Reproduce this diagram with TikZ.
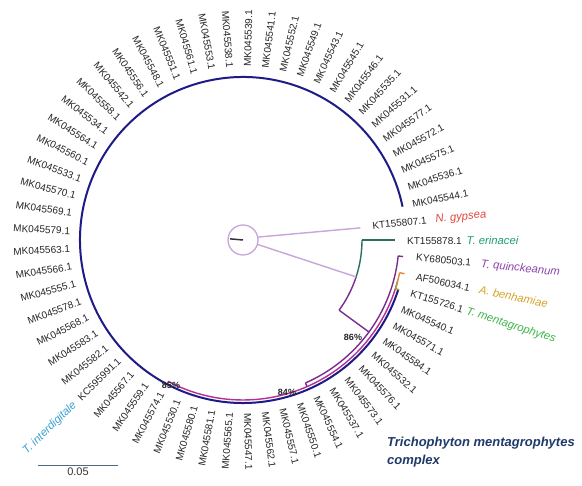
\documentclass[tikz,border=0pt]{standalone}
\usepackage{fontspec}
\setmainfont{Liberation Sans}
\definecolor{navyarc}{HTML}{1E1A86}
\definecolor{lavline}{HTML}{C8A5DA}
\definecolor{tealline}{HTML}{2C6E62}
\definecolor{purpline}{HTML}{7B2D8E}
\definecolor{magline}{HTML}{B42F98}
\definecolor{orangeline}{HTML}{E08A3A}
\definecolor{oliveline}{HTML}{A8A030}
\definecolor{ngyp}{HTML}{E0463C}
\definecolor{teri}{HTML}{1E9C78}
\definecolor{tqui}{HTML}{8A44A8}
\definecolor{aben}{HTML}{D4A528}
\definecolor{tmen}{HTML}{3DB548}
\definecolor{tint}{HTML}{3AA0D2}
\definecolor{titlec}{HTML}{1F3A6A}
\definecolor{scalec}{HTML}{4E6A80}
\newcommand{\spname}[2]{\textcolor{#1}{\fontsize{11.3}{13}\selectfont\itshape #2}}
\begin{document}
\begin{tikzpicture}[x=1pt,y=1pt,
 leaf/.style={font=\fontsize{10}{12}\selectfont, inner sep=0pt, text=black!85},
 boot/.style={font=\fontsize{9}{10}\selectfont\bfseries, inner sep=0pt, text=black!85},
 branch/.style={line width=1.4pt}
]
\useasboundingbox (0,0) rectangle (582,486);
\fill[white] (0,0) rectangle (582,486);
\begin{scope}[shift={(243,246)}]
\coordinate (O) at (0,0);
% root circle and tiny root branch
\draw[lavline, line width=1.3pt] (O) circle (15pt);
\coordinate (r0) at (175:13pt);
\draw[black!80, line width=1.5pt] (O) -- (r0);
% big arc
\draw[navyarc, line width=2pt] (11.80:163pt) arc[start angle=11.80, end angle=342.30, radius=163pt];
% magenta arc
\draw[magline, branch] (242:160pt) arc[start angle=242, end angle=345.25, radius=160pt];
% small node G (A. benhamiae + T. mentagrophytes)
\draw[orangeline, branch] (345.25:160pt) arc[start angle=345.25, end angle=348.20, radius=160pt];
\draw[oliveline, branch] (342.30:160pt) arc[start angle=342.30, end angle=345.25, radius=160pt];
\coordinate (g1) at (348.20:160pt); \coordinate (AFend) at (348.20:165pt);
\draw[orangeline, branch] (g1) -- (AFend);
\coordinate (g2) at (342.30:160pt); \coordinate (KTmend) at (342.30:164pt);
\draw[oliveline, branch] (g2) -- (KTmend);
% node C
\draw[purpline, branch] (293.6:156pt) arc[start angle=293.6, end angle=354.10, radius=156pt];
\coordinate (E1) at (293.6:156pt); \coordinate (E2) at (293.6:160pt);
\draw[purpline, branch] (E1) -- (E2);
\coordinate (KY1) at (354.10:156pt); \coordinate (KYend) at (354.10:161pt);
\draw[purpline, branch] (KY1) -- (KYend);
% node B
\draw[tealline, branch] (0:119pt) arc[start angle=0, end angle=-18.07, radius=119pt];
\draw[purpline, branch] (-18.07:119pt) arc[start angle=-18.07, end angle=-36.15, radius=119pt];
\coordinate (C1) at (-36.15:119pt); \coordinate (C2) at (-36.15:156pt);
\draw[purpline, branch] (C1) -- (C2);
\coordinate (B0) at (0:119pt); \coordinate (KTeend) at (0:152pt);
\draw[tealline, branch] (B0) -- (KTeend);
% root branches
\coordinate (R1) at (11:15pt); \coordinate (NGend) at (5.90:118pt);
\draw[lavline, line width=1.4pt] (R1) -- (NGend);
\coordinate (R2) at (-17:15pt); \coordinate (B) at (-18.07:119pt);
\draw[lavline, line width=1.4pt] (R2) -- (B);
% plain leaf labels
\foreach \k/\lab in {2/MK045544.1, 3/MK045536.1, 4/MK045575.1, 5/MK045572.1, 6/MK045577.1,
  7/MK045531.1, 8/MK045535.1, 9/MK045546.1, 10/MK045545.1, 11/MK045543.1, 12/MK045549.1,
  13/MK045552.1, 14/MK045541.1, 15/MK045539.1, 16/MK045538.1, 17/MK045553.1, 18/MK045561.1,
  19/MK045551.1, 20/MK045548.1, 21/MK045556.1, 22/MK045542.1, 23/MK045558.1, 24/MK045534.1,
  25/MK045564.1, 26/MK045560.1, 27/MK045533.1, 28/MK045570.1, 29/MK045569.1, 30/MK045579.1,
  31/MK045563.1, 32/MK045566.1, 33/MK045555.1, 34/MK045578.1, 35/MK045568.1, 36/MK045583.1,
  37/MK045582.1, 39/MK045567.1, 40/MK045559.1, 41/MK045574.1, 42/MK045530.1, 43/MK045580.1,
  44/MK045581.1, 45/MK045565.1, 46/MK045547.1, 47/MK045562.1, 48/MK045557.1, 49/MK045550.1,
  50/MK045554.1, 51/MK045537.1, 52/MK045573.1, 53/MK045576.1, 54/MK045532.1, 55/MK045584.1,
  56/MK045571.1, 57/MK045540.1} {
  \pgfmathsetmacro\ang{\k*5.901639}
  \pgfmathsetmacro\angb{\ang-180}
  \pgfmathtruncatemacro\rt{cos(\ang)*1000}
  \ifnum\rt<0
    \node[leaf, anchor=east, rotate=\angb] (L\k) at (\ang:173pt) {\lab};
  \else
    \node[leaf, anchor=west, rotate=\ang] (L\k) at (\ang:173pt) {\lab};
  \fi
}
% special labels
\node[leaf, anchor=west, rotate=5.90] (L1) at (5.90:130pt) {KT155807.1\hspace{9pt}\spname{ngyp}{N. gypsea}};
\node[leaf, anchor=west, rotate=0] (L61) at (0:164pt) {KT155878.1\hspace{5pt}\spname{teri}{T. erinacei}};
\node[leaf, anchor=west, rotate=-5.90] (L60) at (-5.90:174pt) {KY680503.1\hspace{10pt}\spname{tqui}{T. quinckeanum}};
\node[leaf, anchor=west, rotate=-11.80] (L59) at (-11.80:177pt) {AF506034.1\hspace{10pt}\spname{aben}{A. benhamiae}};
\node[leaf, anchor=west, rotate=-17.70] (L58) at (-17.70:176pt) {KT155726.1\hspace{4pt}\spname{tmen}{T. mentagrophytes}};
\node[leaf, anchor=east, rotate=44.26] (L38) at (224.26:172pt) {\spname{tint}{T. interdigitale}\hspace{7pt}KC595991.1};
% bootstrap values
\node[boot] (b86) at (110,-97) {86\%};
\node[boot] (b84) at (44,-152) {84\%};
\node[boot] (b85) at (-72,-145) {85\%};
\end{scope}
% scale bar
\coordinate (sb1) at (38,20); \coordinate (sb2) at (118,20);
\draw[scalec, line width=1pt] (sb1) -- (sb2);
\node[font=\fontsize{11}{13}\selectfont, anchor=base, text=black!80, inner sep=0pt] (sbl) at (78,10) {0.05};
% title
\node[anchor=base west, font=\fontsize{13}{15}\selectfont\bfseries\itshape, text=titlec, inner sep=0pt] (title1) at (387,39) {Trichophyton mentagrophytes};
\node[anchor=base west, font=\fontsize{13}{15}\selectfont\bfseries\itshape, text=titlec, inner sep=0pt] (title2) at (387,21) {complex};
\end{tikzpicture}
\end{document}
